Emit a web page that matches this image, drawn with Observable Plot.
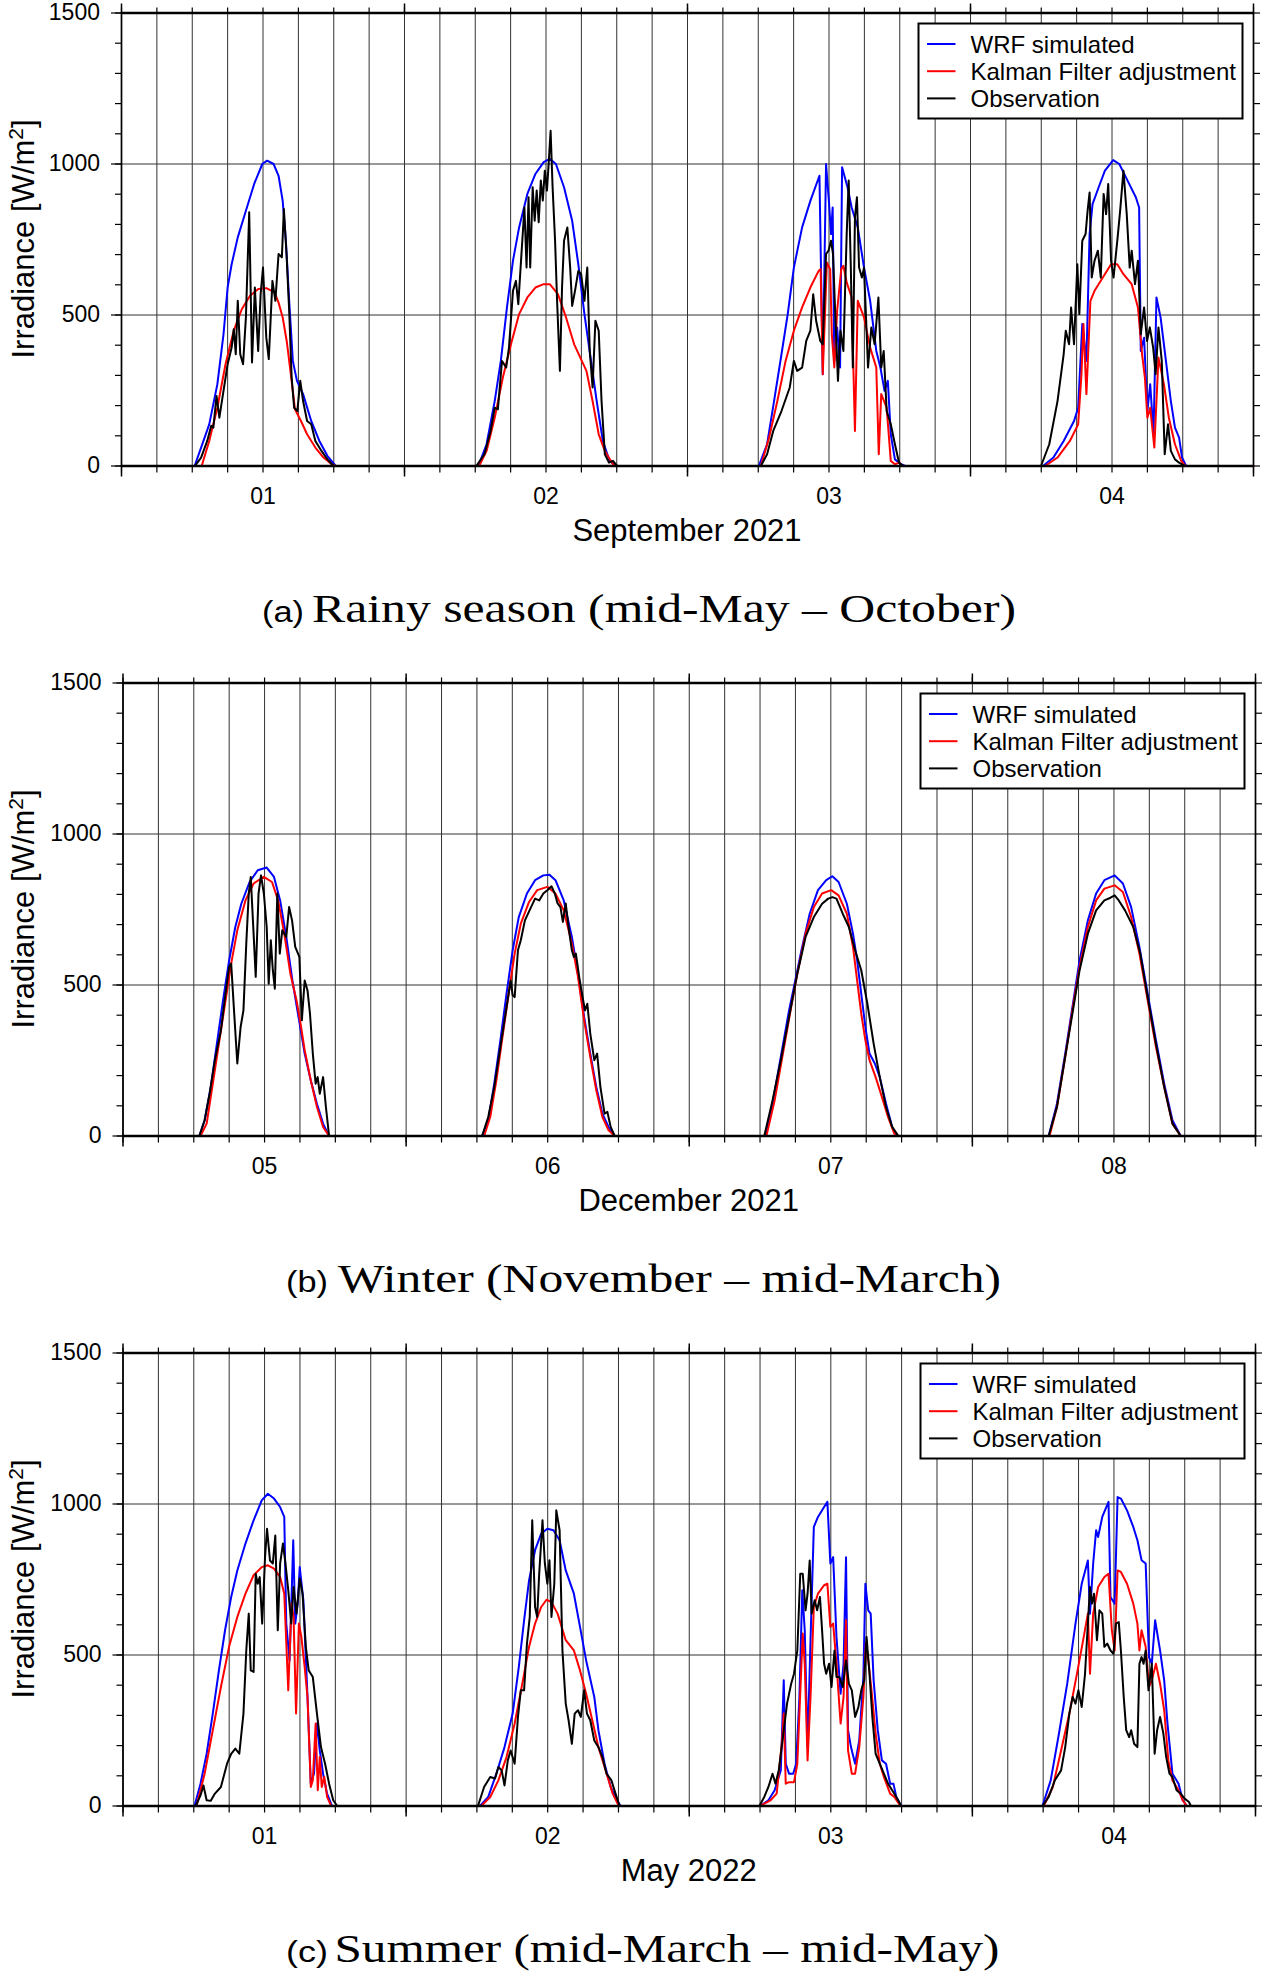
<!DOCTYPE html>
<html>
<head>
<meta charset="utf-8">
<script src="https://cdn.jsdelivr.net/npm/d3@7"></script>
<script src="https://cdn.jsdelivr.net/npm/@observablehq/plot@0.6"></script>
<style>
  html, body { margin: 0; padding: 0; background: #fff; }
  #fig { position: relative; width: 1267px; height: 1978px; overflow: hidden; background: #fff; }
  .panel { position: absolute; left: 0; }
  .panel svg { overflow: visible; }
</style>
</head>
<body>
<div id="fig"></div>
<script>
// Global horizontal irradiance [W/m²] for four consecutive days per season.
// Each day is a list of [local hour, value] readings; night-time irradiance is zero.

// ---- (a) Rainy season: 1–4 September 2021 ----
const sepWrf = [
  [[6.2,0],[6.75,61],[7.44,138],[8.13,271],[8.65,436],[9.0,591],[9.34,668],[9.86,757],[10.55,845],[11.25,934],[11.94,1000],[12.35,1011],[12.9,1000],[13.32,961],[13.67,878],[13.94,746],[14.22,547],[14.53,348],[14.88,282],[15.4,238],[16.09,149],[16.78,83],[17.47,33],[18.17,0]],
  [[6.26,0],[6.96,72],[7.65,215],[8.17,348],[8.69,525],[9.2,680],[9.72,790],[10.42,901],[11.1,967],[11.8,1006],[12.32,1017],[12.84,1000],[13.53,923],[14.22,812],[14.74,668],[15.26,503],[15.78,359],[16.3,215],[16.82,83],[17.34,22],[17.85,0]],
  [[6.05,0],[6.75,72],[7.34,215],[7.97,370],[8.5,503],[9.02,657],[9.72,790],[10.42,878],[11.19,961],[11.47,304],[11.75,1000],[11.99,878],[12.17,768],[12.31,856],[12.45,348],[12.69,459],[12.94,326],[13.11,989],[13.57,923],[13.92,856],[14.44,790],[14.97,657],[15.49,547],[16.01,381],[16.36,326],[16.71,249],[16.99,282],[17.24,105],[17.59,22],[18.11,6],[18.46,0]],
  [[6.15,0],[7.03,28],[7.9,83],[8.78,149],[9.13,193],[9.48,470],[9.83,348],[10.1,768],[10.35,867],[10.87,923],[11.4,978],[12.1,1013],[12.62,1000],[13.32,945],[14.02,890],[14.3,856],[14.44,381],[14.72,425],[15.0,182],[15.24,271],[15.52,105],[15.77,558],[16.12,492],[16.47,381],[16.99,215],[17.34,127],[17.69,94],[17.94,28],[18.29,0]]
];
const sepKf = [
  [[6.8,0],[7.44,83],[8.13,193],[8.82,337],[9.52,448],[10.2,519],[10.9,564],[11.6,586],[12.28,589],[12.98,575],[13.32,541],[13.67,492],[14.01,414],[14.36,304],[14.71,188],[15.22,149],[15.74,105],[16.44,61],[17.13,28],[17.82,6],[18.17,0]],
  [[6.33,0],[6.96,50],[7.65,160],[8.34,293],[9.03,403],[9.72,503],[10.42,558],[11.1,591],[11.8,602],[12.32,602],[13.01,569],[13.7,492],[14.39,403],[14.91,359],[15.43,315],[15.95,215],[16.47,105],[16.99,50],[17.68,6],[18.03,0]],
  [[6.22,0],[6.92,94],[7.62,215],[8.32,348],[9.02,448],[9.72,525],[10.42,591],[11.12,646],[11.29,652],[11.47,304],[11.82,674],[12.1,652],[12.24,436],[12.45,326],[12.69,514],[13.04,652],[13.22,663],[13.5,608],[13.92,558],[14.2,116],[14.44,547],[14.97,492],[15.49,392],[16.01,326],[16.22,39],[16.43,238],[16.89,193],[17.24,17],[17.59,6],[17.94,11],[18.29,0]],
  [[6.33,0],[7.38,28],[8.43,83],[9.13,138],[9.41,304],[9.58,470],[9.83,238],[10.17,547],[10.52,580],[11.22,624],[11.92,668],[12.45,668],[12.97,635],[13.67,602],[14.2,525],[14.55,370],[14.79,293],[15.0,160],[15.24,193],[15.59,61],[15.94,359],[16.4,271],[16.82,160],[17.34,72],[17.87,17],[18.22,0]]
];
const sepObs = [
  [[6.23,0],[6.75,28],[7.27,83],[7.61,133],[7.79,127],[8.06,232],[8.3,160],[8.65,249],[9.0,337],[9.34,392],[9.52,453],[9.69,370],[9.86,547],[10.07,370],[10.31,337],[10.55,492],[10.83,840],[11.07,343],[11.31,591],[11.59,381],[11.8,569],[12.0,657],[12.28,425],[12.49,354],[12.8,613],[13.05,547],[13.32,702],[13.6,691],[13.77,851],[14.01,691],[14.22,514],[14.43,293],[14.64,193],[14.91,182],[15.16,282],[15.4,215],[15.74,149],[16.09,138],[16.44,83],[16.96,50],[17.47,22],[17.99,0]],
  [[6.09,0],[6.78,39],[7.3,116],[7.65,193],[7.92,188],[8.27,348],[8.62,326],[8.86,392],[9.2,580],[9.45,613],[9.65,536],[9.9,691],[10.17,856],[10.35,657],[10.52,890],[10.66,657],[10.87,923],[11.04,812],[11.21,912],[11.38,807],[11.56,945],[11.73,879],[11.9,978],[12.08,912],[12.25,1017],[12.39,1110],[12.56,923],[12.77,746],[12.94,547],[13.18,315],[13.36,591],[13.53,746],[13.81,790],[14.05,657],[14.22,530],[14.46,580],[14.74,646],[14.98,635],[15.26,547],[15.5,657],[15.71,381],[15.95,260],[16.19,481],[16.47,448],[16.71,215],[16.99,39],[17.34,11],[17.68,17],[18.03,0]],
  [[6.22,0],[6.75,39],[7.27,116],[7.97,182],[8.67,260],[9.02,348],[9.3,315],[9.72,326],[10.07,414],[10.42,448],[10.66,569],[10.91,481],[11.26,414],[11.47,403],[11.75,702],[11.96,713],[12.17,746],[12.34,702],[12.52,514],[12.76,282],[12.97,448],[13.22,381],[13.5,768],[13.67,945],[13.85,657],[14.02,326],[14.2,823],[14.37,890],[14.55,657],[14.79,624],[14.97,657],[15.31,326],[15.59,459],[15.87,403],[16.19,558],[16.43,326],[16.64,381],[16.89,182],[17.24,138],[17.59,72],[17.94,11],[18.29,0]],
  [[5.98,0],[6.68,72],[7.38,215],[7.9,370],[8.08,448],[8.36,403],[8.53,525],[8.78,403],[9.06,668],[9.23,503],[9.48,746],[9.76,768],[9.93,845],[10.1,906],[10.28,624],[10.52,680],[10.8,713],[11.05,624],[11.29,901],[11.5,834],[11.68,934],[11.92,680],[12.13,624],[12.45,746],[12.69,845],[12.97,978],[13.25,834],[13.5,657],[13.67,713],[13.95,602],[14.2,680],[14.44,436],[14.72,525],[14.97,414],[15.21,459],[15.49,392],[15.7,304],[15.94,459],[16.22,348],[16.47,39],[16.75,138],[16.99,50],[17.34,22],[17.69,11],[18.04,3],[18.29,0]]
];

// ---- (b) Winter: 5–8 December 2021 ----
const decWrf = [
  [[6.47,0],[6.92,52],[7.44,162],[7.96,306],[8.48,449],[9.0,582],[9.52,692],[10.03,769],[10.73,841],[11.42,880],[12.18,889],[12.8,858],[13.32,780],[13.84,659],[14.36,515],[14.88,394],[15.4,273],[15.92,184],[16.44,107],[16.96,41],[17.47,0]],
  [[6.44,0],[6.96,52],[7.47,173],[7.99,317],[8.51,471],[9.03,615],[9.55,725],[10.24,803],[10.93,847],[11.63,863],[12.15,865],[12.66,847],[13.36,780],[14.05,659],[14.57,537],[15.09,394],[15.61,273],[16.12,162],[16.64,74],[17.16,30],[17.68,0]],
  [[6.43,0],[7.06,107],[7.76,262],[8.46,416],[8.99,515],[9.51,615],[10.21,736],[10.91,814],[11.61,847],[12.13,860],[12.66,841],[13.36,769],[13.88,670],[14.23,582],[14.58,471],[14.93,361],[15.28,273],[15.73,240],[16.15,195],[16.68,107],[17.2,30],[17.62,0]],
  [[6.47,0],[7.17,107],[7.87,273],[8.57,449],[9.09,582],[9.79,714],[10.49,803],[11.19,847],[12.06,863],[12.76,836],[13.46,758],[14.16,626],[14.86,471],[15.56,317],[16.26,173],[16.96,52],[17.66,0]]
];
const decKf = [
  [[6.57,0],[7.09,41],[7.61,173],[8.13,306],[8.65,438],[9.17,571],[9.69,681],[10.38,780],[11.07,836],[11.94,858],[12.63,841],[13.15,780],[13.67,670],[14.19,537],[14.71,449],[15.05,372],[15.4,284],[15.92,184],[16.44,96],[16.96,30],[17.47,0]],
  [[6.61,0],[7.13,63],[7.65,184],[8.17,328],[8.69,471],[9.2,604],[9.72,703],[10.42,775],[11.11,814],[11.97,825],[12.66,803],[13.36,747],[14.05,637],[14.57,527],[15.09,383],[15.61,262],[16.12,151],[16.64,63],[17.16,19],[17.68,0]],
  [[6.54,0],[7.24,118],[7.94,273],[8.64,427],[9.16,537],[9.86,670],[10.56,758],[11.26,803],[12.03,814],[12.66,797],[13.36,736],[13.88,626],[14.23,515],[14.58,405],[14.93,317],[15.28,251],[15.8,195],[16.33,129],[16.85,63],[17.38,8],[17.62,0]],
  [[6.54,0],[7.17,96],[7.87,262],[8.57,438],[9.09,560],[9.79,692],[10.49,780],[11.19,819],[12.06,830],[12.76,808],[13.46,725],[14.16,604],[14.86,449],[15.56,295],[16.26,162],[16.96,41],[17.66,0]]
];
const decObs = [
  [[6.47,0],[6.92,52],[7.34,140],[7.79,251],[8.3,350],[8.65,460],[9.0,560],[9.17,571],[9.41,416],[9.69,240],[9.97,361],[10.21,416],[10.45,637],[10.66,803],[10.83,858],[11.07,670],[11.25,527],[11.49,803],[11.7,863],[11.94,803],[12.18,692],[12.35,504],[12.53,648],[12.7,549],[12.87,488],[13.08,803],[13.29,604],[13.5,681],[13.84,659],[14.08,758],[14.33,714],[14.6,626],[14.95,593],[15.16,383],[15.4,515],[15.64,482],[15.85,405],[16.09,273],[16.33,173],[16.5,195],[16.68,140],[16.96,195],[17.2,96],[17.47,0]],
  [[6.44,0],[6.96,63],[7.47,162],[7.99,295],[8.34,383],[8.69,471],[8.86,515],[9.03,466],[9.2,460],[9.48,615],[9.72,648],[10.07,714],[10.59,758],[10.93,786],[11.28,780],[11.63,803],[11.97,814],[12.32,827],[12.6,803],[12.84,770],[13.08,758],[13.29,709],[13.53,770],[13.77,692],[14.05,615],[14.22,593],[14.39,604],[14.67,527],[14.91,471],[15.16,416],[15.36,438],[15.61,339],[15.95,251],[16.19,273],[16.47,162],[16.82,74],[17.06,80],[17.34,30],[17.68,0]],
  [[6.36,0],[7.06,118],[7.76,251],[8.46,394],[9.16,537],[9.86,659],[10.56,725],[11.26,769],[11.78,786],[12.13,791],[12.48,786],[13.01,736],[13.53,692],[14.06,615],[14.58,549],[15.1,438],[15.63,306],[16.15,195],[16.68,96],[17.2,30],[17.73,0]],
  [[6.47,0],[7.17,96],[7.87,262],[8.57,427],[9.09,549],[9.79,670],[10.49,747],[11.19,780],[11.71,789],[12.06,797],[12.41,780],[12.94,747],[13.64,692],[14.23,604],[14.86,460],[15.56,306],[16.26,162],[16.96,41],[17.66,0]]
];

// ---- (c) Summer: 1–4 May 2022 ----
const mayWrf = [
  [[6.06,0],[6.57,74],[7.09,173],[7.61,306],[8.13,449],[8.65,582],[9.17,692],[9.69,780],[10.38,869],[11.07,946],[11.76,1012],[12.28,1034],[12.8,1018],[13.32,990],[13.67,957],[13.84,604],[14.12,482],[14.29,692],[14.43,880],[14.6,604],[14.81,670],[14.98,791],[15.29,681],[15.64,361],[15.92,74],[16.19,107],[16.44,273],[16.68,184],[16.96,107],[17.3,41],[17.72,0]],
  [[6.26,0],[6.96,30],[7.65,107],[8.34,195],[9.03,306],[9.55,460],[10.0,615],[10.42,747],[10.93,847],[11.45,902],[11.97,918],[12.49,913],[13.01,880],[13.53,780],[14.22,703],[14.74,593],[15.26,482],[15.95,361],[16.3,251],[16.82,140],[17.34,63],[17.85,19],[18.2,0]],
  [[6.01,0],[6.71,19],[7.24,52],[7.76,118],[8.01,416],[8.18,140],[8.46,107],[8.81,107],[9.06,140],[9.34,361],[9.58,714],[9.79,582],[10.03,195],[10.28,549],[10.56,924],[10.91,957],[11.43,990],[11.71,1007],[11.96,803],[12.2,824],[12.48,560],[12.83,372],[13.08,471],[13.29,824],[13.46,251],[13.71,195],[14.06,140],[14.41,217],[14.76,427],[14.93,736],[15.17,648],[15.38,637],[15.63,416],[15.98,251],[16.33,151],[16.68,140],[17.03,74],[17.31,74],[17.55,30],[17.97,0]],
  [[5.94,0],[6.64,85],[7.34,240],[8.04,405],[8.74,604],[9.27,736],[9.79,813],[9.97,637],[10.24,803],[10.49,913],[10.66,891],[11.01,957],[11.54,1007],[11.71,692],[12.06,670],[12.31,1023],[12.59,1018],[13.11,979],[13.64,924],[13.99,880],[14.34,814],[14.69,803],[14.97,493],[15.21,471],[15.49,615],[15.91,515],[16.26,416],[16.54,273],[16.96,107],[17.48,74],[17.83,19],[18.18,0]]
];
const mayKf = [
  [[6.23,0],[6.92,107],[7.61,251],[8.3,394],[8.99,527],[9.69,626],[10.38,703],[11.07,764],[11.76,791],[12.28,797],[12.8,786],[13.32,758],[13.67,703],[14.01,383],[14.29,670],[14.46,626],[14.67,306],[14.91,604],[15.12,560],[15.4,460],[15.64,361],[15.92,63],[16.09,85],[16.33,273],[16.51,52],[16.68,162],[16.85,63],[17.06,96],[17.3,30],[17.65,0]],
  [[6.37,0],[7.13,30],[7.82,85],[8.51,162],[9.2,273],[9.9,416],[10.42,527],[10.93,604],[11.45,659],[11.9,683],[12.32,675],[12.84,637],[13.53,549],[14.22,515],[14.74,449],[15.26,372],[15.78,284],[16.3,195],[16.82,129],[17.51,41],[18.03,0]],
  [[6.01,0],[6.89,19],[7.41,41],[7.87,217],[8.01,306],[8.18,74],[8.46,79],[8.88,79],[9.16,140],[9.62,571],[9.79,471],[10.03,151],[10.28,361],[10.56,659],[10.91,703],[11.43,731],[11.71,736],[11.96,593],[12.2,604],[12.48,471],[12.83,273],[13.08,361],[13.29,615],[13.46,184],[13.78,107],[14.06,107],[14.41,195],[14.76,361],[14.97,538],[15.21,471],[15.45,383],[15.8,240],[16.15,140],[16.5,96],[17.03,41],[17.38,30],[17.9,0]],
  [[6.05,0],[6.82,63],[7.52,184],[8.22,306],[8.92,449],[9.44,560],[9.79,637],[9.97,438],[10.24,637],[10.66,725],[11.19,758],[11.54,769],[11.82,582],[12.06,515],[12.31,780],[12.59,775],[13.11,736],[13.64,670],[13.99,604],[14.16,515],[14.34,582],[14.69,527],[14.97,394],[15.21,416],[15.56,471],[15.91,405],[16.26,317],[16.61,151],[16.96,85],[17.48,52],[17.83,19],[18.18,0]]
];
const mayObs = [
  [[6.16,0],[6.57,35],[6.82,68],[7.09,19],[7.44,17],[7.79,41],[8.3,63],[8.82,140],[9.17,173],[9.52,190],[9.86,173],[10.21,306],[10.45,515],[10.66,637],[10.83,449],[11.07,444],[11.25,769],[11.42,736],[11.59,758],[11.8,604],[12.04,824],[12.21,918],[12.46,813],[12.7,803],[12.91,896],[13.12,582],[13.32,803],[13.56,869],[13.77,803],[14.01,714],[14.26,604],[14.46,725],[14.71,637],[14.98,753],[15.22,703],[15.5,527],[15.74,449],[16.09,427],[16.44,306],[16.78,195],[17.13,140],[17.47,74],[17.82,19],[18.17,0]],
  [[6.09,0],[6.61,63],[7.13,96],[7.54,91],[7.82,129],[8.1,118],[8.34,68],[8.62,151],[8.86,184],[9.2,140],[9.48,295],[9.72,383],[10.0,383],[10.24,537],[10.48,626],[10.69,946],[10.93,659],[11.11,626],[11.28,769],[11.56,946],[11.76,803],[11.97,736],[12.15,814],[12.32,626],[12.56,736],[12.73,979],[13.01,913],[13.25,515],[13.53,339],[13.77,284],[14.05,206],[14.29,306],[14.57,317],[14.81,295],[15.09,383],[15.33,306],[15.61,284],[15.95,217],[16.3,195],[16.64,162],[16.99,107],[17.4,85],[17.75,41],[18.1,0]],
  [[5.94,0],[6.36,30],[6.71,63],[7.06,107],[7.31,74],[7.59,118],[7.94,228],[8.29,339],[8.64,405],[8.88,438],[9.16,515],[9.41,769],[9.62,769],[9.86,648],[10.03,703],[10.21,813],[10.38,637],[10.63,681],[10.84,648],[11.08,692],[11.26,582],[11.43,471],[11.61,438],[11.85,471],[12.06,394],[12.31,515],[12.48,427],[12.73,427],[13.01,394],[13.29,482],[13.53,405],[13.78,383],[14.06,295],[14.34,328],[14.58,383],[14.83,416],[15.03,560],[15.28,438],[15.52,295],[15.8,173],[16.15,140],[16.5,107],[16.85,74],[17.2,52],[17.55,30],[17.97,0]],
  [[5.94,0],[6.47,30],[6.99,85],[7.52,118],[7.87,195],[8.22,306],[8.5,361],[8.74,339],[8.99,383],[9.27,328],[9.55,438],[9.79,604],[9.97,725],[10.14,670],[10.31,703],[10.56,549],[10.77,648],[11.01,637],[11.19,527],[11.43,538],[11.71,515],[11.96,504],[12.17,604],[12.41,609],[12.59,515],[12.83,361],[13.04,251],[13.29,228],[13.46,251],[13.71,206],[13.99,195],[14.16,471],[14.34,493],[14.51,471],[14.69,515],[14.93,383],[15.21,471],[15.45,173],[15.66,251],[15.91,295],[16.19,240],[16.43,162],[16.71,107],[16.96,96],[17.31,52],[17.66,41],[18.01,24],[18.36,13],[18.53,0]]
];

// Axis text
const sepDayLabels = ["01", "02", "03", "04"];
const decDayLabels = ["05", "06", "07", "08"];
const mayDayLabels = ["01", "02", "03", "04"];
const yTickValues = [0, 500, 1000, 1500];
const yTickLabels = ["0", "500", "1000", "1500"];
const seriesNames = ["WRF simulated", "Kalman Filter adjustment", "Observation"];
const seriesColors = ["#0000ff", "#ff0000", "#000000"];

// ---- drawing ----
const sans = "'Liberation Sans', Arial, Helvetica, sans-serif";
const serif = "'Liberation Serif', 'Times New Roman', Times, serif";
const HOUR = 3600e3;

function toRows(start, days, nightZero) {
  const t0 = Date.parse(start + "T00:00:00Z");
  const out = [];
  if (nightZero) out.push({t: new Date(t0), v: 0, day: 0});
  days.forEach((pts, i) => pts.forEach(([h, v]) => out.push({t: new Date(t0 + (i * 24 + h) * HOUR), v, day: i})));
  if (nightZero) out.push({t: new Date(t0 + days.length * 24 * HOUR), v: 0, day: days.length - 1});
  return out;
}

function drawPanel(p) {
  const W = 1267, H = p.height, T = 12.5, B = 465.5;
  const t0 = new Date(p.start + "T00:00:00Z");
  const t1 = d3.utcDay.offset(t0, p.obs.length);
  const threeHours = d3.utcHour.every(3).range(t0, d3.utcHour.offset(t1, 1));
  const dayEdges = d3.utcDay.range(t0, d3.utcHour.offset(t1, 1));
  const noons = d3.utcDay.range(t0, t1).map(d => d3.utcHour.offset(d, 12));
  const hundreds = d3.range(0, 1501, 100);
  const blank = () => "";

  const wrf = toRows(p.start, p.wrf, true);
  const kf = toRows(p.start, p.kf, true);
  const obs = toRows(p.start, p.obs, false);

  const svg = Plot.plot({
    width: W,
    height: H,
    marginLeft: p.left,
    marginRight: W - p.right,
    marginTop: T,
    marginBottom: H - B,
    x: {type: "utc", domain: [t0, t1]},
    y: {domain: [0, 1500]},
    style: {fontFamily: sans, fontSize: "23px", color: "#000", background: "transparent", overflow: "visible"},
    marks: [
      Plot.gridX(threeHours, {stroke: "#333", strokeOpacity: 1, strokeWidth: 1}),
      Plot.gridY([500, 1000], {stroke: "#333", strokeOpacity: 1, strokeWidth: 1}),
      Plot.line(wrf, {x: "t", y: "v", stroke: seriesColors[0], strokeWidth: 2}),
      Plot.line(kf, {x: "t", y: "v", stroke: seriesColors[1], strokeWidth: 2}),
      Plot.line(obs, {x: "t", y: "v", z: "day", stroke: seriesColors[2], strokeWidth: 2}),
      Plot.ruleY([0, 1500], {stroke: "#000", strokeWidth: 2.4}),
      Plot.ruleX([t0, t1], {stroke: "#000", strokeWidth: 1.7}),
      Plot.axisX(threeHours, {tickSize: 7, tickFormat: blank, label: null, strokeWidth: 1.2}),
      Plot.axisX(dayEdges, {tickSize: 11, tickFormat: blank, label: null, strokeWidth: 1.5}),
      Plot.axisX(noons, {tickSize: 0, tickPadding: 21.5, label: null,
        tickFormat: d => p.dayLabels[noons.findIndex(n => +n === +d)]}),
      Plot.axisX(threeHours, {anchor: "top", tickSize: 6, tickFormat: blank, label: null, strokeWidth: 1.2}),
      Plot.axisX(dayEdges, {anchor: "top", tickSize: 10, tickFormat: blank, label: null, strokeWidth: 1.5}),
      Plot.axisY(hundreds, {tickSize: 6, tickFormat: blank, label: null, strokeWidth: 1.2}),
      Plot.axisY(yTickValues, {tickSize: 10, tickPadding: 11.5, label: null, strokeWidth: 1.2,
        tickFormat: d => yTickLabels[yTickValues.indexOf(d)]}),
      Plot.axisY(hundreds, {anchor: "right", tickSize: 6, tickFormat: blank, label: null, strokeWidth: 1.2})
    ]
  });

  const s = d3.select(svg);
  const L = p.left, R = p.right;

  // y-axis title with superscript
  const yt = s.append("text")
    .attr("transform", `translate(34,${(T + B) / 2}) rotate(-90)`)
    .attr("text-anchor", "middle")
    .attr("font-family", sans)
    .attr("font-size", 31)
    .attr("fill", "#000");
  yt.append("tspan").text("Irradiance [W/m");
  yt.append("tspan").attr("font-size", 21).attr("dy", -11).text("2");
  yt.append("tspan").attr("dy", 11).text("]");

  // x-axis title
  s.append("text")
    .attr("x", (L + R) / 2)
    .attr("y", B + 75)
    .attr("text-anchor", "middle")
    .attr("font-family", sans)
    .attr("font-size", 31)
    .attr("fill", "#000")
    .text(p.title);

  // legend box
  const bw = 324, bh = 95, bx = R - 10.5 - bw, by = T + 11;
  const lg = s.append("g").attr("text-anchor", "start");
  lg.append("rect").attr("x", bx).attr("y", by).attr("width", bw).attr("height", bh)
    .attr("fill", "#fff").attr("stroke", "#000").attr("stroke-width", 2);
  seriesNames.forEach((name, i) => {
    const cy = by + 20.5 + i * 27.2;
    lg.append("line").attr("x1", bx + 8.5).attr("x2", bx + 37).attr("y1", cy).attr("y2", cy)
      .attr("stroke", seriesColors[i]).attr("stroke-width", 2);
    lg.append("text").attr("x", bx + 52).attr("y", cy + 8.7).attr("text-anchor", "start")
      .attr("font-family", sans).attr("font-size", 24).attr("fill", "#000").text(name);
  });

  // panel caption
  const cap = s.append("g").attr("text-anchor", "start");
  cap.append("text").attr("x", p.tagX).attr("y", 622).attr("text-anchor", "start")
    .attr("font-family", sans).attr("font-size", 30).attr("fill", "#000")
    .attr("textLength", 42).attr("lengthAdjust", "spacingAndGlyphs").text(p.tag);
  cap.append("text").attr("x", p.capX).attr("y", 622).attr("text-anchor", "start")
    .attr("font-family", serif).attr("font-size", 40).attr("fill", "#000")
    .attr("textLength", p.capW).attr("lengthAdjust", "spacingAndGlyphs").text(p.caption);

  const wrap = document.createElement("div");
  wrap.className = "panel";
  wrap.style.top = p.top + "px";
  wrap.appendChild(svg);
  document.getElementById("fig").appendChild(wrap);
}

const panels = [
  {start: "2021-09-01", wrf: sepWrf, kf: sepKf, obs: sepObs, dayLabels: sepDayLabels,
   title: "September 2021", tag: "(a)", caption: "Rainy season (mid-May – October)",
   top: 0, height: 670, left: 121, right: 1253, tagX: 262, capX: 312, capW: 704},
  {start: "2021-12-05", wrf: decWrf, kf: decKf, obs: decObs, dayLabels: decDayLabels,
   title: "December 2021", tag: "(b)", caption: "Winter (November – mid-March)",
   top: 670, height: 670, left: 122.5, right: 1255, tagX: 286, capX: 338, capW: 663},
  {start: "2022-05-01", wrf: mayWrf, kf: mayKf, obs: mayObs, dayLabels: mayDayLabels,
   title: "May 2022", tag: "(c)", caption: "Summer (mid-March – mid-May)",
   top: 1340, height: 638, left: 122.5, right: 1255, tagX: 286, capX: 334.5, capW: 665}
];

panels.forEach(drawPanel);
</script>
</body>
</html>
